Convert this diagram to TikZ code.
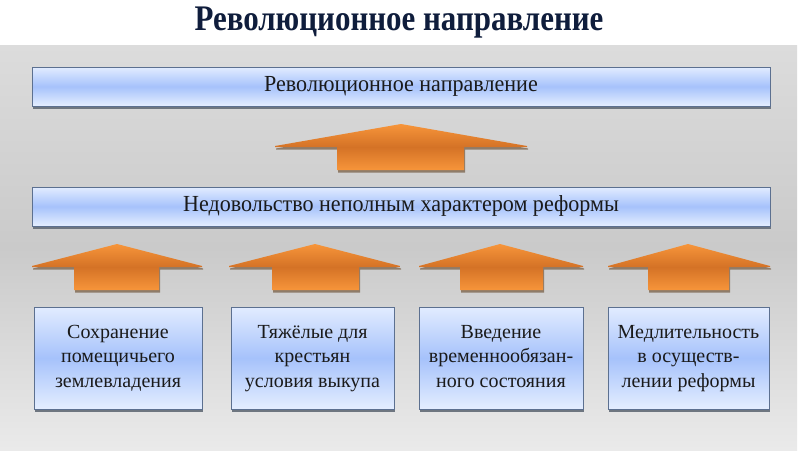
\documentclass[tikz,border=0pt]{standalone}
\usepackage{fontspec}
\setmainfont{Liberation Serif}
\newfontfamily\titlefont[FakeStretch=0.86]{Liberation Serif}
\newfontfamily\condfont[FakeStretch=0.96]{Liberation Serif}
\usetikzlibrary{shadows}
\definecolor{navy}{HTML}{0F1D3C}
\definecolor{boxtop}{HTML}{E2ECFF}
\definecolor{boxmid}{HTML}{A6C2FB}
\definecolor{boxbot}{HTML}{E4EEFF}
\definecolor{boxline}{HTML}{5C7090}
\definecolor{shadowc}{HTML}{6E7680}
\definecolor{orlight}{HTML}{F7953A}
\definecolor{ordark}{HTML}{D47226}
\definecolor{arrshadow}{HTML}{8E7C6A}
\definecolor{pantop}{HTML}{DCDCDC}
\definecolor{panmid}{HTML}{CACACA}
\definecolor{panbot}{HTML}{EAEAEA}
\definecolor{txt}{HTML}{1A1A1A}
\tikzset{
  bluebox/.style={draw=boxline, line width=0.9pt, top color=boxtop, bottom color=boxbot, middle color=boxmid,
    drop shadow={shadow xshift=1pt, shadow yshift=-2.5pt, fill=shadowc, opacity=1},
    align=center, text=txt, inner sep=0pt},
  widebox/.style={bluebox, minimum width=738pt, minimum height=39pt, font=\condfont\fontsize{23}{26}\selectfont},
  smallbox/.style={bluebox, minimum height=102pt, font=\fontsize{20}{24.5}\selectfont},
  orarrow/.style={top color=orlight, bottom color=orlight, middle color=ordark},
  arrshadowstyle/.style={fill=arrshadow}
}
% #1 tip x, #2 tip y, #3 wing left, #4 wing right, #5 stem left, #6 stem right, #7 wing y, #8 bottom y
\newcommand{\UpArrowShape}[9]{%
  \path[#9] (#1,#2) -- (#4,#7) -- (#4,#7+1) -- (#6,#7+1) -- (#6,#8) -- (#5,#8) -- (#5,#7+1) -- (#3,#7+1) -- (#3,#7) -- cycle;}
\newcommand{\UpArrow}[8]{%
  \begin{scope}[shift={(1,2.5)}]\UpArrowShape{#1}{#2}{#3}{#4}{#5}{#6}{#7}{#8}{arrshadowstyle}\end{scope}
  \UpArrowShape{#1}{#2}{#3}{#4}{#5}{#6}{#7}{#8}{orarrow}}
\begin{document}
\begin{tikzpicture}[x=1pt,y=-1pt]
\useasboundingbox (0,0) rectangle (800,450);
\fill[white] (0,0) rectangle (800,450);
\fill[top color=pantop, bottom color=panbot, middle color=panmid] (0,45) rectangle (797,450);
\node[font=\titlefont\bfseries\fontsize{36}{40}\selectfont, text=navy] (title) at (399,23) {Революционное направление};

\node[widebox] (top) at (401,86.5) {\strut Революционное направление};
\node[widebox] (mid) at (401,206.5) {\strut Недовольство неполным характером реформы};

\node[smallbox, minimum width=168pt] (c1) at (118,358) {\strut Сохранение\\помещичьего\\землевладения\strut};
\node[smallbox, minimum width=163pt] (c2) at (312.5,358) {\strut Тяжёлые для\\крестьян\\условия выкупа\strut};
\node[smallbox, minimum width=164pt] (c3) at (501,358) {\strut Введение\\временнообязан-\\ного состояния\strut};
\node[smallbox, minimum width=161pt] (c4) at (688.5,358) {\strut Медлительность\\в осуществ-\\лении реформы\strut};

\UpArrow{401}{124}{275}{527}{337}{464}{146}{170}
\UpArrow{117}{244}{32}{202}{74}{159}{266}{290}
\UpArrow{315}{244}{229}{400}{272}{359}{266}{290}
\UpArrow{500}{244}{419}{583}{460}{543}{266}{290}
\UpArrow{688}{244}{608}{770}{648}{729}{266}{290}
\end{tikzpicture}
\end{document}
